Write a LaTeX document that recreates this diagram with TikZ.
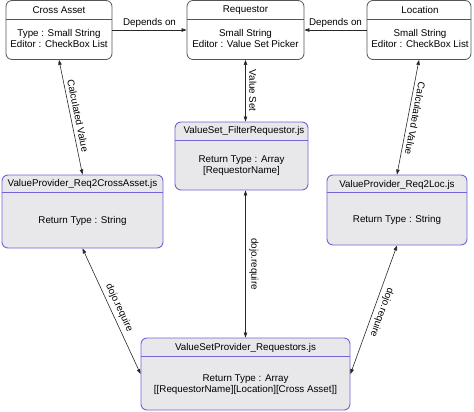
\documentclass[tikz,border=0pt]{standalone}
\usepackage{fontspec}
\setmainfont{Liberation Sans}
\usetikzlibrary{arrows.meta,calc}
\definecolor{jsedge}{RGB}{112,100,214}
\definecolor{jsfill}{RGB}{232,232,234}
\definecolor{attredge}{RGB}{85,85,85}
\definecolor{linkcol}{RGB}{40,40,40}
\tikzset{
  attrbox/.style={draw=attredge,fill=white,rounded corners=6pt,line width=.8pt,inner sep=0pt},
  jsbox/.style={draw=jsedge,fill=jsfill,rounded corners=6pt,line width=.9pt,inner sep=0pt},
  txt/.style={inner sep=0pt,align=center},
  link/.style={-{Triangle[length=5pt,width=3.5pt]},draw=linkcol,line width=.6pt},
  both/.style={link,{Triangle[length=5pt,width=3.5pt]}-{Triangle[length=5pt,width=3.5pt]}},
  lbl/.style={midway,sloped,allow upside down,above,inner sep=3.5pt},
  dlbl/.style={midway,above,inner sep=2.5pt},
}

\begin{document}
\begin{tikzpicture}[x=1pt,y=-1pt,font=\fontsize{9.8}{11}\selectfont]
  \useasboundingbox (0,0) rectangle (474,412);
  % attribute boxes
  \node[attrbox,minimum width=106pt,minimum height=59pt] (cross) at (59,30) {};
  \node[attrbox,minimum width=117pt,minimum height=59pt] (req) at (245.5,30) {};
  \node[attrbox,minimum width=104pt,minimum height=59pt] (loc) at (419,30) {};
  % script boxes
  \node[jsbox,minimum width=161pt,minimum height=73pt] (vpca) at (82.5,211.5) {};
  \node[jsbox,minimum width=133pt,minimum height=68pt] (vsfr) at (241.5,156) {};
  \node[jsbox,minimum width=140pt,minimum height=70pt] (vploc) at (397,210) {};
  \node[jsbox,minimum width=209pt,minimum height=72pt] (vsp) at (245.5,374) {};
  % header lines
  \foreach \b/\h/\col in {cross/19/attredge,req/19/attredge,loc/19/attredge,
      vpca/18/jsedge,vsfr/19/jsedge,vploc/18/jsedge,vsp/19/jsedge}
    \draw[draw=\col,line width=.8pt] ($(\b.north west)+(0,\h)$) -- ($(\b.north east)+(0,\h)$);
  % texts
  \node[txt] (crosst) at (59,10) {Cross Asset};
  \node[txt] (crossb) at (59,38.5) {Type : Small String\\Editor : CheckBox List};
  \node[txt] (reqt) at (245.5,10) {Requestor};
  \node[txt] (reqb) at (245.5,38.5) {Small String\\Editor : Value Set Picker};
  \node[txt] (loct) at (420,10) {Location};
  \node[txt] (locb) at (420,38.5) {Small String\\Editor : CheckBox List};
  \node[txt] (vpcat) at (82.5,184) {ValueProvider\_Req2CrossAsset.js};
  \node[txt] (vpcab) at (82.5,221) {Return Type : String};
  \node[txt] (vsfrt) at (244,131) {ValueSet\_FilterRequestor.js};
  \node[txt] (vsfrb) at (241.5,166) {Return Type : Array\\{[RequestorName]}};
  \node[txt] (vploct) at (397,185) {ValueProvider\_Req2Loc.js};
  \node[txt] (vplocb) at (397,220) {Return Type : String};
  \node[txt] (vspt) at (245.5,348) {ValueSetProvider\_Requestors.js};
  \node[txt] (vspb) at (245.5,384.5) {Return Type : Array\\{[[RequestorName][Location][Cross Asset]]}};
  % connectors
  \draw[link] (cross) -- node[dlbl] (dep1) {Depends on} (req);
  \draw[link] (loc) -- node[dlbl] (dep2) {Depends on} (req);
  \draw[both] (cross.south) -- node[lbl] (calc1) {Calculated Value} (vpca.north);
  \draw[both] (req.south) -- node[lbl] (vset) {Value Set} (req.south |- vsfr.north);
  \draw[both] (vsfr.south -| req.south) -- node[lbl] (dojo2) {dojo.require} (vsp.north);
  \draw[both] (loc.south) -- node[lbl] (calc2) {Calculated Value} (vploc.north);
  \draw[both] (vpca.south) -- node[lbl] (dojo1) {dojo.require} (vsp.west);
  \draw[both] (vploc.south) -- node[lbl] (dojo3) {dojo.require} (vsp.east);
\end{tikzpicture}
\end{document}
